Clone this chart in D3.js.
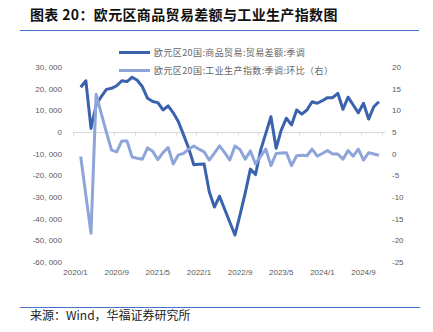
<!DOCTYPE html>
<html><head><meta charset="utf-8">
<script src="https://cdn.jsdelivr.net/npm/d3@7"></script>
<style>
html,body{margin:0;padding:0;background:#fff;}
svg{display:block;}
</style></head>
<body>
<script>
// ---- data ----
const months = [];
for (let y = 2020; y <= 2024; y++) for (let m = 1; m <= 12; m++) months.push(y + "/" + m);
const tickLabels = ["2020/1","2020/9","2021/5","2022/1","2022/9","2023/5","2024/1","2024/9"];
const leftTicks = [30000,20000,10000,0,-10000,-20000,-30000,-40000,-50000,-60000];
const rightTicks = [20,15,10,5,0,-5,-10,-15,-20,-25];
const seriesNames = ["欧元区20国:商品贸易:贸易差额:季调","欧元区20国:工业生产指数:季调:环比（右）"];
// trade balance, EUR mn, seasonally adjusted (left axis)
const tradeBalance = [null,
 20800,23800,1800,12500,16500,19800,20300,21500,23800,23400,25400,
 24000,21000,15700,14200,13700,10300,12200,9000,4900,-1200,-7400,-15000,
 -14800,-14600,-27400,-34500,-29500,-35500,-41500,-47400,-38000,-28000,-17000,-19500,
 -8200,-500,7200,-7400,1000,6500,3400,10300,8400,10300,14100,13400,
 14600,16000,16000,18000,10600,16200,12600,9000,13400,6100,11800,14100];
// industrial production, % m/m, seasonally adjusted (right axis)
const industrialMoM = [null,
 -0.6,-9.5,-18.3,13.8,9.3,5.0,0.9,0.5,3.0,3.0,-0.7,
 -1.0,-1.2,1.4,0.6,-1.3,0.3,1.5,-2.3,-0.2,0.15,1.1,1.85,
 1.1,0.5,-1.4,0.2,1.85,0.3,-1.4,1.85,1.0,-1.2,0.7,-2.3,
 -0.5,1.1,-2.7,0.1,0.2,0.3,-2.7,-0.4,-0.3,-0.4,1.1,-0.5,
 0.1,0.8,0.0,0.0,-1.2,0.8,-0.5,1.1,-1.4,0.3,0.0,-0.3];

// ---- drawing ----
const W = 433, H = 332;
const svg = d3.select("body").append("svg").attr("width", W).attr("height", H);
const FONT = "'Noto Sans CJK SC','Noto Sans',sans-serif";
const NUMF = "'Liberation Sans',Arial,sans-serif";
const darkC = "#3a62ad", lightC = "#8ea5d9", axisC = "#595959";

// title
svg.append("text").attr("x", 30).attr("y", 20).attr("font-family", FONT)
  .attr("font-size", 14).attr("font-weight", "bold").attr("fill", "#111")
  .attr("letter-spacing", 0.35)
  .text("图表 20：欧元区商品贸易差额与工业生产指数图");
svg.append("line").attr("x1", 20).attr("x2", 419).attr("y1", 30.5).attr("y2", 30.5)
  .attr("stroke", "#4472c4").attr("stroke-width", 1.2);

// scales
const x = d3.scaleBand().domain(months).range([73, 381.5]).paddingInner(0).paddingOuter(0);
const cx = d => x(d) + x.bandwidth() / 2;
const yL = d3.scaleLinear().domain([-60000, 30000]).range([262.3, 67.3]);
const yR = d3.scaleLinear().domain([-25, 20]).range([262.3, 67.3]);

// zero line with ticks
const y0 = Math.round(yL(0)) + 0.5;
svg.append("line").attr("x1", 73).attr("x2", 385).attr("y1", y0).attr("y2", y0)
  .attr("stroke", "#d9d9d9").attr("stroke-width", 1);
const tickIdx = d3.range(0, months.length + 1, 4);
svg.append("g").selectAll("line").data(tickIdx).join("line")
  .attr("x1", i => Math.round(i < months.length ? x(months[i]) : x.range()[1]) + 0.5)
  .attr("x2", i => Math.round(i < months.length ? x(months[i]) : x.range()[1]) + 0.5)
  .attr("y1", y0).attr("y2", y0 + 3).attr("stroke", "#d9d9d9");

// left axis labels
const fmtL = v => { const s = d3.format(",")(Math.abs(v)).replace(",", ", "); return (v < 0 ? "-" : "") + s; };
svg.append("g").selectAll("text").data(leftTicks).join("text")
  .attr("x", 62).attr("y", d => yL(d)).attr("dy", "0.35em").attr("text-anchor", "end")
  .attr("font-family", NUMF).attr("font-size", 8).attr("fill", axisC).text(fmtL);
// right axis labels
svg.append("g").selectAll("text").data(rightTicks).join("text")
  .attr("x", 392).attr("y", d => yR(d)).attr("dy", "0.35em").attr("text-anchor", "start")
  .attr("font-family", NUMF).attr("font-size", 8).attr("fill", axisC).text(d => (d < 0 ? "-" : "") + Math.abs(d));
// x labels
svg.append("g").selectAll("text").data(tickLabels).join("text")
  .attr("x", d => cx(d)).attr("y", 272).attr("dy", "0.35em").attr("text-anchor", "middle")
  .attr("font-family", NUMF).attr("font-size", 8).attr("fill", axisC).text(d => d);

// lines
const lineL = d3.line().defined(d => d.v != null).x(d => cx(d.m)).y(d => yL(d.v));
const lineR = d3.line().defined(d => d.v != null).x(d => cx(d.m)).y(d => yR(d.v));
svg.append("path").datum(months.map((m, i) => ({m, v: tradeBalance[i]})))
  .attr("d", lineL).attr("fill", "none").attr("stroke", darkC).attr("stroke-width", 3)
  .attr("stroke-linejoin", "round");
svg.append("path").datum(months.map((m, i) => ({m, v: industrialMoM[i]})))
  .attr("d", lineR).attr("fill", "none").attr("stroke", lightC).attr("stroke-width", 3)
  .attr("stroke-linejoin", "round");

// legend
const leg = svg.append("g");
[0, 1].forEach(i => {
  const yy = 52.5 + i * 18;
  leg.append("line").attr("x1", 119).attr("x2", 150).attr("y1", yy).attr("y2", yy)
    .attr("stroke", i ? lightC : darkC).attr("stroke-width", 3);
  leg.append("text").attr("x", 154).attr("y", yy).attr("dy", "0.35em")
    .attr("font-family", FONT).attr("font-size", 9).attr("fill", "#666")
    .attr("letter-spacing", 0.4).text(seriesNames[i]);
});

// footer
svg.append("line").attr("x1", 20).attr("x2", 420).attr("y1", 307.5).attr("y2", 307.5)
  .attr("stroke", "#4472c4").attr("stroke-width", 1.2);
svg.append("text").attr("x", 30).attr("y", 316).attr("dy", "0.35em").attr("font-family", FONT)
  .attr("font-size", 12).attr("fill", "#222").text("来源：Wind，华福证券研究所");
</script>
</body></html>
